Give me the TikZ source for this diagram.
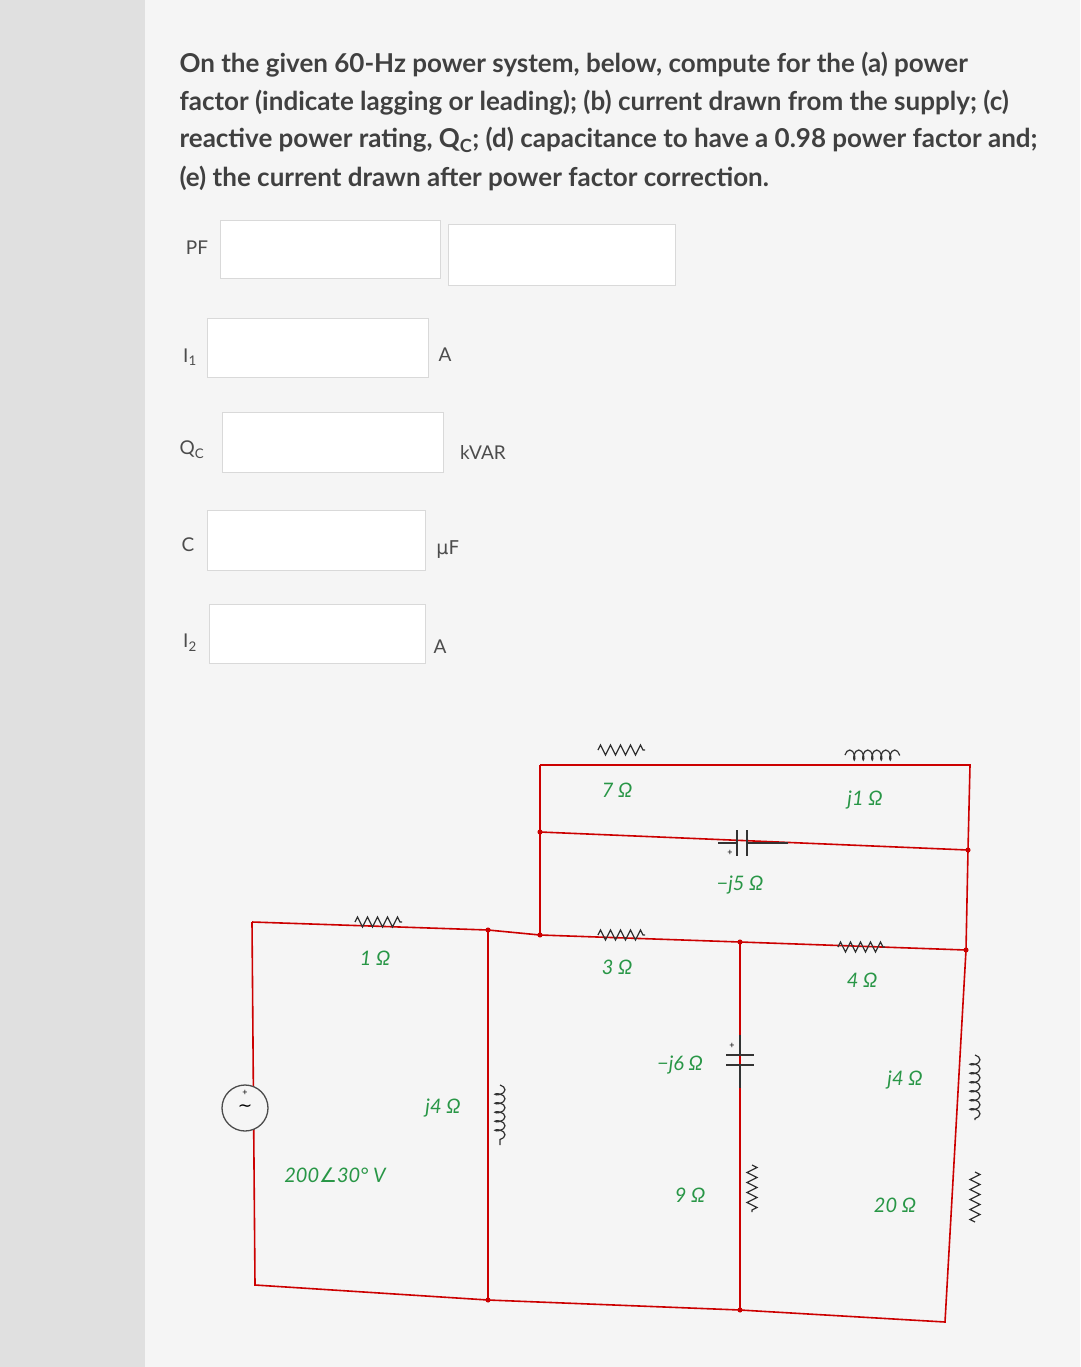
\documentclass[tikz,border=0pt]{standalone}
\usepackage{fontspec}
\setmainfont{Lato}
\newfontfamily\djv{DejaVu Sans}
\usetikzlibrary{decorations.pathmorphing,decorations.pathreplacing}
\definecolor{lg}{RGB}{40,150,70}
\begin{document}
\begin{tikzpicture}[x=1pt,y=-1pt,
  wire/.style={draw=red!80!black,line width=1.6pt},
  res/.style={draw=black!80,line width=1.2pt,decorate,decoration={zigzag,segment length=10pt,amplitude=5pt}},
  ind/.style={draw=black!80,line width=1.2pt,decorate,decoration={coil,aspect=0.5,segment length=9pt,amplitude=5pt}},
  box/.style={draw=black!15,line width=1pt,fill=white},
  qtxt/.style={anchor=west,font=\fontsize{26}{28}\selectfont\bfseries,text=black!75},
  lab/.style={font=\fontsize{19}{22}\selectfont,text=black!70},
  clab/.style={font=\fontsize{20}{22}\selectfont\itshape,text=lg},
  dot/.style={circle,fill=red!80!black,inner sep=1.8pt}]
\useasboundingbox (0,0) rectangle (1080,1367);
\fill[black!12] (0,0) rectangle (1080,1367);
\fill[white!96!black] (145,0) rectangle (1080,1367);
\node[qtxt] (t1) at (176,65) {On the given 60-Hz power system, below, compute for the (a) power};
\node[qtxt] (t2) at (176,103) {factor (indicate lagging or leading); (b) current drawn from the supply; (c)};
\node[qtxt] (t3) at (176,140) {reactive power rating, Q\textsubscript{C}; (d) capacitance to have a 0.98 power factor and;};
\node[qtxt] (t4) at (176,178) {(e) the current drawn after power factor correction.};
% answer rows
\node[lab] (pf) at (197,248) {PF};
\draw[box] (220,220) rectangle (440,278);
\draw[box] (448,224) rectangle (675,285);
\node[lab] (i1) at (190,357) {I\textsubscript{1}};
\draw[box] (207,318) rectangle (428,377);
\node[lab] (a1) at (445,355) {A};
\node[lab] (qc) at (192,450) {Q\textsubscript{C}};
\draw[box] (222,412) rectangle (443,472);
\node[lab] (kv) at (483,452) {kVAR};
\node[lab] (cc) at (188,545) {C};
\draw[box] (207,510) rectangle (425,570);
\node[lab] (uf) at (448,550) {\djv µF};
\node[lab] (i2) at (190,643) {I\textsubscript{2}};
\draw[box] (209,604) rectangle (425,663);
\node[lab] (a2) at (440,647) {A};
% circuit coordinates
\coordinate (TL) at (540,765); \coordinate (TR) at (970,765);
\coordinate (ML) at (540,832); \coordinate (MR) at (968,850);
\coordinate (L0) at (252,922); \coordinate (N1) at (488,930);
\coordinate (N2) at (540,935); \coordinate (N3) at (740,942);
\coordinate (R0) at (966,950);
\coordinate (B0) at (255,1285); \coordinate (B1) at (488,1300);
\coordinate (B2) at (740,1310); \coordinate (B3) at (945,1322);
\path[wire] (TL) -- (TR) -- (MR) -- (R0);
\path[wire] (ML) -- (MR);
\path[wire] (TL) -- (N2);
\path[wire] (L0) -- (N1) -- (N2) -- (N3) -- (R0);
\path[wire] (L0) -- (B0) -- (B1) -- (B2) -- (B3) -- (R0);
\path[wire] (N1) -- (B1);
\path[wire] (N3) -- (B2);
\foreach \p in {N1,N2,N3,ML,MR,R0,B1,B2} \node[dot] at (\p) {};
% components
\draw[res] (598,750) -- (645,750);
\draw[ind] (845,755) -- (900,755);
\draw[res] (355,922) -- (402,922);
\draw[res] (598,935) -- (645,935);
\draw[res] (838,947) -- (885,947);
\draw[ind] (500,1085) -- (500,1145);
\draw[res] (752,1165) -- (752,1212);
\draw[ind] (975,1055) -- (975,1120);
\draw[res] (975,1172) -- (975,1222);
% capacitor -j5
\draw[black!80,line width=1.3pt] (718,843) -- (737,843) (737,830) -- (737,856) (747,830) -- (747,856) (747,843) -- (788,843);
\node[font=\small] at (730,853) {+};
% capacitor -j6
\draw[black!80,line width=1.3pt] (740,1035) -- (740,1055) (726,1055) -- (754,1055) (726,1065) -- (754,1065) (740,1065) -- (740,1088);
\node[font=\small] at (732,1046) {+};
% source
\node[circle,draw=black!70,line width=1.3pt,fill=white!96!black,minimum size=46pt] (src) at (245,1108) {\djv\LARGE ∼};
\node[font=\small] at (245,1093) {+};
% labels
\node[clab] (l7) at (617,790) {7 Ω};
\node[clab] (lj1) at (865,800) {j1 Ω};
\node[clab] (lj5) at (740,885) {−j5 Ω};
\node[clab] (l1) at (375,958) {1 Ω};
\node[clab] (l3) at (617,967) {3 Ω};
\node[clab] (l4) at (862,980) {4 Ω};
\node[clab] (lj6) at (680,1065) {−j6 Ω};
\node[clab] (lj4b) at (905,1080) {j4 Ω};
\node[clab] (lj4a) at (443,1108) {j4 Ω};
\node[clab] (lv) at (335,1175) {200{\djv∠}30° V};
\node[clab] (l9) at (690,1195) {9 Ω};
\node[clab] (l20) at (895,1205) {20 Ω};
\end{tikzpicture}
\end{document}
